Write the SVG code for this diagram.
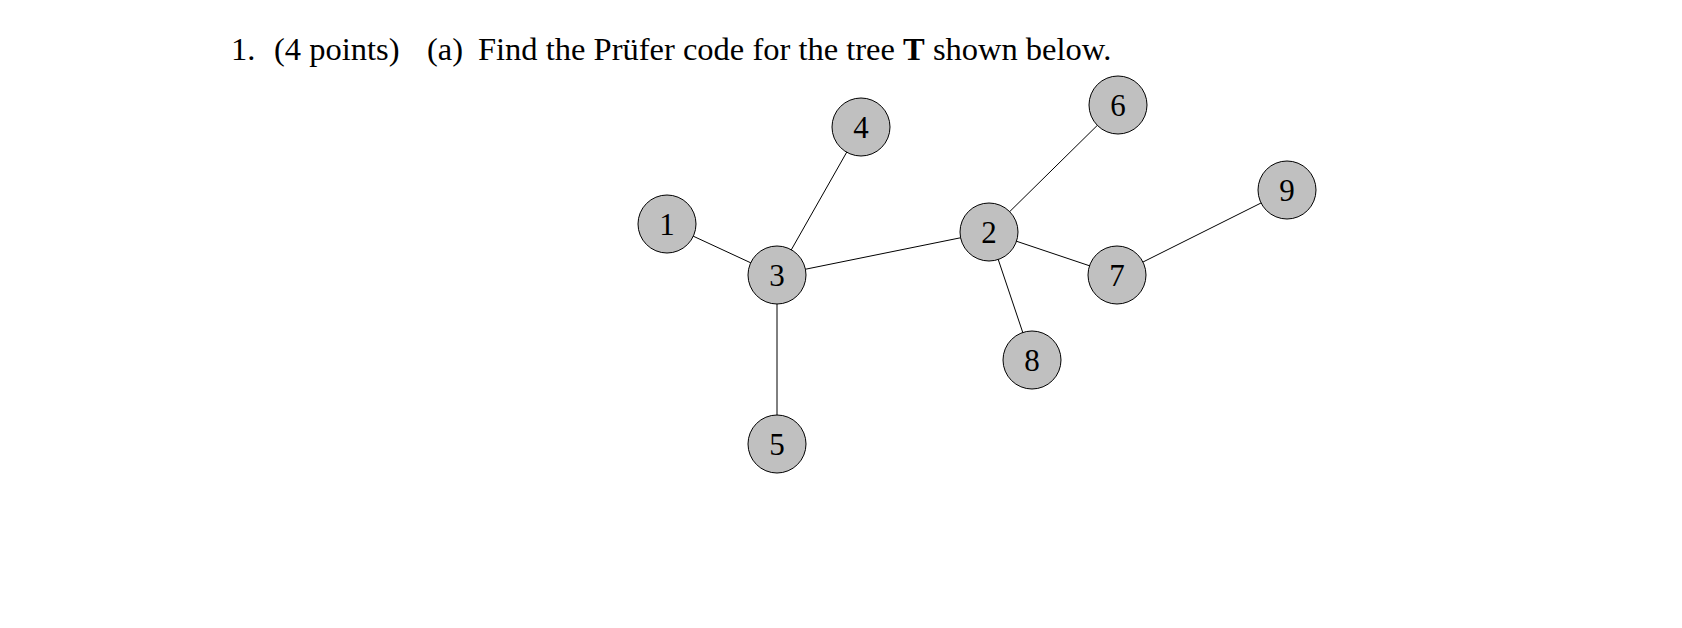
<svg xmlns="http://www.w3.org/2000/svg" width="1682" height="628" viewBox="0 0 1682 628">
<style>
text{font-family:"Liberation Serif","Times New Roman",serif;fill:#000}
.n ellipse{fill:#c0c0c0;stroke:#000;stroke-width:1}
.n text{font-size:31px;text-anchor:middle}
.e line{stroke:#000;stroke-width:1}
.t{font-size:32.5px}
</style>
<rect width="1682" height="628" fill="#fff"/>
<text class="t" y="60"><tspan x="231">1.</tspan><tspan x="274">(4 points)</tspan><tspan x="427">(a)</tspan><tspan x="478">Find the Prüfer code for the tree <tspan font-weight="bold">T</tspan> shown below.</tspan></text>
<g class="e" id="edges">
<line x1="667" y1="224" x2="777" y2="275"/>
<line x1="861" y1="127" x2="777" y2="275"/>
<line x1="777" y1="275" x2="777" y2="444"/>
<line x1="777" y1="275" x2="989" y2="232"/>
<line x1="989" y1="232" x2="1118" y2="105"/>
<line x1="989" y1="232" x2="1117" y2="275"/>
<line x1="989" y1="232" x2="1032" y2="360"/>
<line x1="1117" y1="275" x2="1287" y2="190"/>
</g>
<g class="n" id="n1"><ellipse cx="667" cy="224" rx="29" ry="29"/><text x="667" y="235">1</text></g>
<g class="n" id="n2"><ellipse cx="989" cy="232" rx="29" ry="29"/><text x="989" y="243">2</text></g>
<g class="n" id="n3"><ellipse cx="777" cy="275" rx="29" ry="29"/><text x="777" y="286">3</text></g>
<g class="n" id="n4"><ellipse cx="861" cy="127" rx="29" ry="29"/><text x="861" y="138">4</text></g>
<g class="n" id="n5"><ellipse cx="777" cy="444" rx="29" ry="29"/><text x="777" y="455">5</text></g>
<g class="n" id="n6"><ellipse cx="1118" cy="105" rx="29" ry="29"/><text x="1118" y="116">6</text></g>
<g class="n" id="n7"><ellipse cx="1117" cy="275" rx="29" ry="29"/><text x="1117" y="286">7</text></g>
<g class="n" id="n8"><ellipse cx="1032" cy="360" rx="29" ry="29"/><text x="1032" y="371">8</text></g>
<g class="n" id="n9"><ellipse cx="1287" cy="190" rx="29" ry="29"/><text x="1287" y="201">9</text></g>
</svg>
